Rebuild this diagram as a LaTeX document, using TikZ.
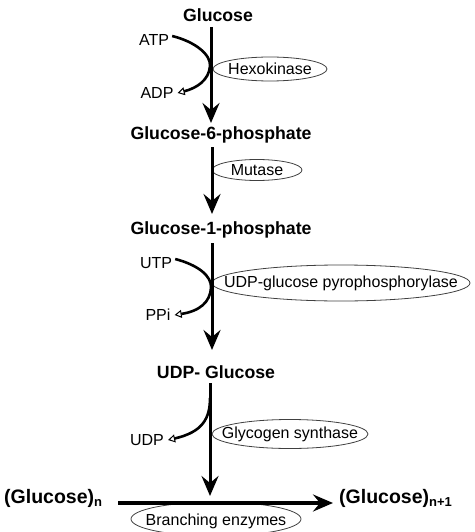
\documentclass[tikz,border=0pt]{standalone}
\usepackage{fontspec}
\setmainfont{Liberation Sans}
\usetikzlibrary{arrows.meta,shapes.geometric}
\begin{document}
\begin{tikzpicture}[x=1pt,y=-1pt,
  met/.style={font=\fontsize{17.7}{19}\selectfont\bfseries, inner sep=0pt},
  poly/.style={font=\fontsize{19.5}{21}\selectfont\bfseries, inner sep=0pt},
  lbl/.style={font=\fontsize{16}{18}\selectfont, inner sep=0pt},
  enz/.style={inner sep=0pt, font=\fontsize{16}{18}\selectfont},
  ring/.style={draw=black!75, line width=0.8pt},
  mainarr/.style={line width=3pt, -{Stealth[length=20pt,width=17pt,inset=7pt]}},
  sidearr/.style={line width=2.6pt, -{Triangle[open,length=7pt,width=8pt,line width=1pt]}},
]
\useasboundingbox (0,0) rectangle (474,532);
% metabolites
\node[met] (glc) at (218,15) {Glucose};
\node[met] (g6p) at (221,135) {Glucose-6-phosphate};
\node[met] (g1p) at (221,230) {Glucose-1-phosphate};
\node[met] (udpg) at (216,372) {UDP- Glucose};
\node[poly, anchor=west] (gn) at (4,498) {(Glucose)\raisebox{-3pt}{\fontsize{13}{14}\selectfont n}};
\node[poly, anchor=west] (gn1) at (339,498) {(Glucose)\raisebox{-3pt}{\fontsize{13}{14}\selectfont n+1}};
% side labels
\node[lbl] (atp) at (154,40) {ATP};
\node[lbl] (adp) at (157,93) {ADP};
\node[lbl] (utp) at (156,263) {UTP};
\node[lbl] (ppi) at (158,315) {PPi};
\node[lbl] (udp) at (147,440) {UDP};
% enzymes
\node[enz] (hk) at (270,69) {Hexokinase};
\node[enz] (mut) at (257,170) {Mutase};
\node[enz] (ugp) at (341,283) {UDP-glucose pyrophosphorylase};
\node[enz] (gs) at (290,434) {Glycogen synthase};
\node[enz] (be) at (216,521) {Branching enzymes};
\draw[ring] (hk) ellipse [x radius=57, y radius=12];
\draw[ring] (mut) ellipse [x radius=45, y radius=10.5];
\draw[ring] (ugp) ellipse [x radius=129, y radius=18];
\draw[ring] (gs) ellipse [x radius=78, y radius=14.5];
\draw[ring] (be.center) ++(0,-2) ellipse [x radius=85, y radius=17];
% coordinates of main arrows
\coordinate (a1s) at (211,27);  \coordinate (a1e) at (211,123);
\coordinate (a2s) at (212,147); \coordinate (a2e) at (212,214);
\coordinate (a3s) at (212,243); \coordinate (a3e) at (212,350);
\coordinate (a4s) at (210,383); \coordinate (a4e) at (210,496);
\coordinate (hs) at (118,503);  \coordinate (he) at (333,503);
\draw[mainarr] (a1s) -- (a1e);
\draw[mainarr] (a2s) -- (a2e);
\draw[mainarr] (a3s) -- (a3e);
\draw[mainarr] (a4s) -- (a4e);
\draw[line width=3.5pt, -{Stealth[length=20pt,width=17pt,inset=7pt]}] (hs) -- (he);
% side curves
\draw[sidearr] (atp.east) ++(3,-4) .. controls (196,42) and (211,55) .. (210,66)
   .. controls (209,80) and (197,88) .. ([xshift=4pt]adp.east);
\draw[sidearr] (utp.east) ++(3,-4) .. controls (198,265) and (212,276) .. (211,288)
   .. controls (210,302) and (200,311) .. ([xshift=4pt]ppi.east);
\draw[sidearr] (a4s) ++(0,15) .. controls (210,418) and (203,432) .. ([xshift=4pt]udp.east);
\end{tikzpicture}
\end{document}
